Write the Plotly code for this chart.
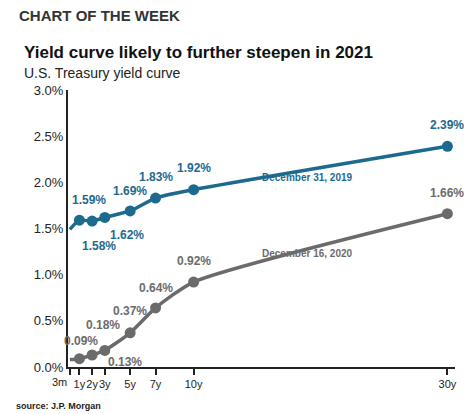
import plotly.graph_objects as go

tenor_labels = ["3m", "1y", "2y", "3y", "5y", "7y", "10y", "30y"]
tenor_years = [0.25, 1, 2, 3, 5, 7, 10, 30]
y2019 = [1.49, 1.59, 1.58, 1.62, 1.69, 1.83, 1.92, 2.39]
y2020 = [0.08, 0.09, 0.13, 0.18, 0.37, 0.64, 0.92, 1.66]

blue = "#1d6a8f"
gray = "#6b6b6b"

fig = go.Figure()
for ys, c in [(y2019, blue), (y2020, gray)]:
    fig.add_trace(go.Scatter(x=tenor_years, y=ys, mode="lines", line=dict(color=c, width=3.5, shape="spline", smoothing=0.6), hoverinfo="skip"))
    fig.add_trace(go.Scatter(x=tenor_years[1:], y=ys[1:], mode="markers", marker=dict(color=c, size=11), hoverinfo="skip"))

# label offsets (px, +dy = below) for points 1..7
off19 = [(10, -20), (7, 25), (22, 18), (0, -20), (0, -21), (0, -22), (0, -21)]
off20 = [(2, -18), (33, 7), (-2, -25), (0, -22), (0, -20), (0, -21), (0, -21)]
for ys, offs, c in [(y2019, off19, blue), (y2020, off20, gray)]:
    for i, (dx, dy) in zip(range(1, 8), offs):
        fig.add_annotation(x=tenor_years[i], y=ys[i], text=f"<b>{ys[i]:.2f}%</b>", showarrow=False,
                           xshift=dx, yshift=-dy, font=dict(color=c, size=12, family="Arial"))

fig.add_annotation(x=19, y=2.05, text="<b>December 31, 2019</b>", showarrow=False, font=dict(color=blue, size=10, family="Arial"))
fig.add_annotation(x=19, y=1.23, text="<b>December 16, 2020</b>", showarrow=False, font=dict(color=gray, size=10, family="Arial"))

# 3m tick label drawn left of the axis, as in the reference
fig.add_annotation(x=tenor_years[0], xref="x", yref="paper", y=0, yanchor="top", yshift=-7, xshift=-10,
                   text=tenor_labels[0], showarrow=False, font=dict(size=11, color="#222", family="Arial"))

fig.add_annotation(xref="paper", yref="paper", x=-0.132, y=1.27, xanchor="left", yanchor="middle",
                   text="<b>CHART OF THE WEEK</b>", showarrow=False, font=dict(size=15, color="#333", family="Liberation Sans Narrow, Arial Narrow, Arial"))
fig.add_annotation(xref="paper", yref="paper", x=-0.12, y=1.134, xanchor="left", yanchor="middle",
                   text="<b>Yield curve likely to further steepen in 2021</b>", showarrow=False, font=dict(size=17, color="#111", family="Arial"))
fig.add_annotation(xref="paper", yref="paper", x=-0.12, y=1.061, xanchor="left", yanchor="middle",
                   text="U.S. Treasury yield curve", showarrow=False, font=dict(size=14, color="#222", family="Arial"))
fig.add_annotation(xref="paper", yref="paper", x=-0.14, y=-0.14, xanchor="left", yanchor="middle",
                   text="<b>source: J.P. Morgan</b>", showarrow=False, font=dict(size=9, color="#222", family="Arial"))

fig.update_layout(
    width=474, height=414, showlegend=False,
    paper_bgcolor="white", plot_bgcolor="white",
    margin=dict(l=60, r=27, t=82, b=55),
    xaxis=dict(range=[0.1, 30.6], tickvals=tenor_years, ticktext=[""] + tenor_labels[1:], showgrid=False, zeroline=False,
               showline=True, linecolor="#222", linewidth=2, ticks="outside", ticklen=6, tickwidth=1.5, tickcolor="#222",
               tickangle=0, tickfont=dict(size=11, color="#222", family="Arial")),
    yaxis=dict(range=[0, 3.0], tickvals=[0, 0.5, 1, 1.5, 2, 2.5, 3], ticktext=["0.0%", "0.5%", "1.0%", "1.5%", "2.0%", "2.5%", "3.0%"],
               showgrid=False, zeroline=False, showline=True, linecolor="#222", linewidth=2,
               tickfont=dict(size=13, color="#222", family="Arial")),
)
fig.write_html("out.html")
